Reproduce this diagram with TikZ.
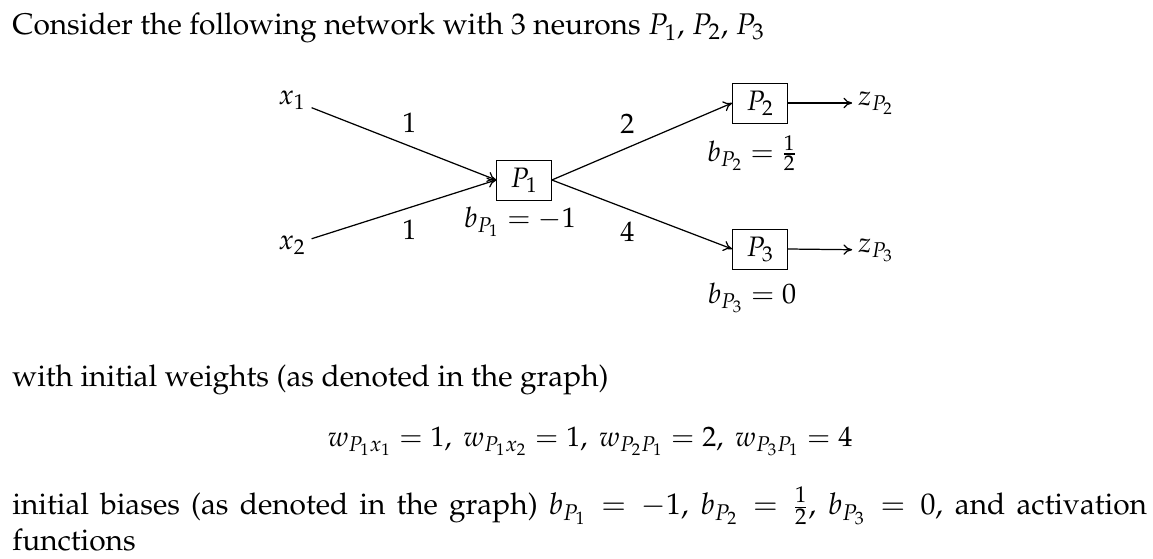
\documentclass[tikz,border=0pt]{standalone}
\usepackage[T1]{fontenc}
\usepackage{mathpazo}
\usetikzlibrary{arrows.meta}
\begin{document}
\begin{tikzpicture}[x=0.02cm,y=-0.02cm,
  every node/.style={font=\fontsize{16}{19}\selectfont},
  txt/.style={font=\fontsize{17}{20}\selectfont,anchor=west,inner sep=0pt},
  box/.style={draw,minimum width=1.1cm,minimum height=0.8cm,inner sep=2pt},
  con/.style={line width=0.7pt,-{To[length=5pt,width=6pt]}},
  lbl/.style={inner sep=4pt}]
\useasboundingbox (0,0) rectangle (1153,558);
\node[txt] (t1) at (12,28) {Consider the following network with 3 neurons $P_1$, $P_2$, $P_3$};
\node (x1) at (292,100) {$x_1$};
\node (x2) at (292,245) {$x_2$};
\node[box] (P1) at (524,180) {$P_1$};
\node[box] (P2) at (760,103) {$P_2$};
\node[box] (P3) at (760,249) {$P_3$};
\node (z2) at (876,103) {$z_{P_2}$};
\node (z3) at (876,250) {$z_{P_3}$};
\draw[con] (x1) -- (P1.west) node[pos=0.45,above right,lbl] {1};
\draw[con] (x2) -- (P1.west) node[pos=0.45,below right,lbl] {1};
\draw[con] (P1.east) -- (P2.west) node[pos=0.5,above left,lbl] {2};
\draw[con] (P1.east) -- (P3.west) node[pos=0.5,below left,lbl] {4};
\draw[con] (P2.east) -- (z2);
\draw[con] (P3.east) -- (z3);
\node (b1) at (520,222) {$b_{P_1}=-1$};
\node (b2) at (752,153) {$b_{P_2}=\frac{1}{2}$};
\node (b3) at (752,298) {$b_{P_3}=0$};
\node[txt] (t2) at (12,380) {with initial weights (as denoted in the graph)};
\node (eq) at (590,441) {$w_{P_1x_1}=1,\ w_{P_1x_2}=1,\ w_{P_2P_1}=2,\ w_{P_3P_1}=4$};
\node[txt] (t3) at (12,506) {\makebox[22.7cm][s]{initial biases (as denoted in the graph) $b_{P_1} = -1$, $b_{P_2} = \frac{1}{2}$, $b_{P_3} = 0$, and activation}};
\node[txt] (t4) at (12,540) {functions};
\end{tikzpicture}
\end{document}
